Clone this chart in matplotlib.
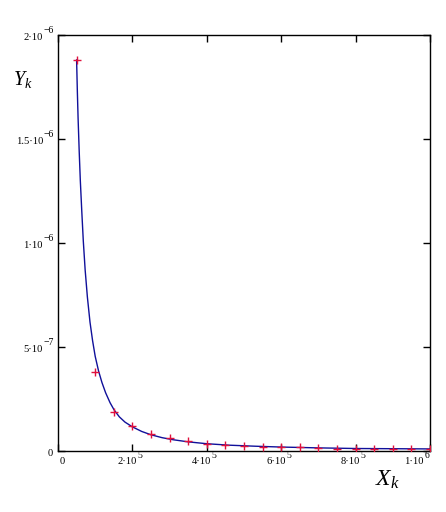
import matplotlib
matplotlib.use("Agg")
import matplotlib.pyplot as plt

plt.rcParams['mathtext.fontset'] = 'custom'
plt.rcParams['mathtext.rm'] = 'Liberation Serif'
plt.rcParams['mathtext.it'] = 'Liberation Serif:italic'
plt.rcParams['font.family'] = ['Liberation Serif', 'DejaVu Serif']

# measured data points (X_k, Y_k)
x_pts = [5e4, 1e5, 1.5e5, 2e5, 2.5e5, 3e5, 3.5e5, 4e5, 4.5e5, 5e5,
         5.5e5, 6e5, 6.5e5, 7e5, 7.5e5, 8e5, 8.5e5, 9e5, 9.5e5, 1e6]
y_pts = [1.88e-6, 0.378e-6, 0.186e-6, 0.119e-6, 0.082e-6, 0.061e-6, 0.047e-6,
         0.034e-6, 0.030e-6, 0.025e-6, 0.021e-6, 0.020e-6, 0.019e-6, 0.013e-6,
         0.012e-6, 0.012e-6, 0.011e-6, 0.011e-6, 0.011e-6, 0.010e-6]

# fitted curve
x_curve = [50e3, 52e3, 54e3, 57e3, 60e3, 64e3, 68e3, 73e3, 79e3, 86e3, 93e3,
           100e3, 109e3, 118e3, 128e3, 140e3, 151e3, 165e3, 180e3, 200e3,
           225e3, 250e3, 280e3, 310e3, 350e3, 400e3, 460e3, 530e3, 600e3,
           700e3, 800e3, 900e3, 1000e3]
y_curve = [1.88e-6, 1.73e-6, 1.60e-6, 1.44e-6, 1.30e-6, 1.15e-6, 1.01e-6,
           0.87e-6, 0.74e-6, 0.62e-6, 0.53e-6, 0.455e-6, 0.385e-6, 0.33e-6,
           0.28e-6, 0.232e-6, 0.197e-6, 0.164e-6, 0.139e-6, 0.116e-6,
           0.094e-6, 0.078e-6, 0.064e-6, 0.054e-6, 0.044e-6, 0.035e-6,
           0.028e-6, 0.023e-6, 0.019e-6, 0.015e-6, 0.012e-6, 0.011e-6, 0.010e-6]

x_ticks = [0, 2e5, 4e5, 6e5, 8e5, 1e6]
x_tick_base = ['0', '2·10', '4·10', '6·10', '8·10', '1·10']
x_tick_exp = ['', '5', '5', '5', '5', '6']
y_ticks = [0, 5e-7, 1e-6, 1.5e-6, 2e-6]
y_tick_base = ['0', '5·10', '1·10', '1.5·10', '2·10']
y_tick_exp = ['', '\u22127', '\u22126', '\u22126', '\u22126']

W, H = 446, 512
fig = plt.figure(figsize=(W / 100, H / 100), dpi=100)
ax = fig.add_axes([58 / W, 61 / H, 372 / W, 416 / H])

ax.plot(x_curve, y_curve, color='#10109a', lw=1.0, zorder=2)
ax.plot(x_pts, y_pts, linestyle='none', marker='+', color='#e0103c',
        markersize=6, markeredgewidth=1.0, zorder=3)

ax.set_xlim(0, 1e6)
ax.set_ylim(0, 2e-6)

ax.set_xticks(x_ticks, labels=[''] * len(x_ticks))
ax.set_yticks(y_ticks, labels=[''] * len(y_ticks))
ax.tick_params(direction='in', length=5, width=1.0, top=True, right=True,
               colors='black')

for s in ax.spines.values():
    s.set_linewidth(1.0)
    s.set_color('black')

FS = 7.6
FE = 7.0

# y tick labels: base right edge 15 px left of axis, exponent raised
for t, b, e in zip(y_ticks, y_tick_base, y_tick_exp):
    if e == '':
        ax.annotate(b, xy=(0, t), xycoords=('axes fraction', 'data'),
                    xytext=(-5, -4.5), textcoords='offset pixels',
                    ha='right', va='baseline', fontsize=FS)
        continue
    bt = ax.annotate(b, xy=(0, t), xycoords=('axes fraction', 'data'),
                     xytext=(-15, -5.5), textcoords='offset pixels',
                     ha='right', va='baseline', fontsize=FS)
    ax.annotate(e, xy=(1, 0), xycoords=bt, xytext=(0.5, 9.5),
                textcoords='offset pixels', ha='left', va='baseline',
                fontsize=FE)

# x tick labels
for i, (t, b, e) in enumerate(zip(x_ticks, x_tick_base, x_tick_exp)):
    if e == '':
        ax.annotate(b, xy=(t, 0), xycoords=('data', 'axes fraction'),
                    xytext=(4, -13.5), textcoords='offset pixels',
                    ha='center', va='baseline', fontsize=FS)
        continue
    dx = 4.5 if i < len(x_ticks) - 1 else -6
    bt = ax.annotate(b, xy=(t, 0), xycoords=('data', 'axes fraction'),
                     xytext=(dx, -13.5), textcoords='offset pixels',
                     ha='right', va='baseline', fontsize=FS)
    ax.annotate(e, xy=(1, 0), xycoords=bt, xytext=(0.5, 8),
                textcoords='offset pixels', ha='left', va='baseline',
                fontsize=FE)

fig.text(13 / W, 1 - 80 / H, r'$Y_k$', fontsize=14.5, ha='left', va='center')
fig.text(375 / W, 1 - 480 / H, r'$X_k$', fontsize=17, ha='left', va='center')

fig.savefig('out.png', dpi=100, facecolor='white')
